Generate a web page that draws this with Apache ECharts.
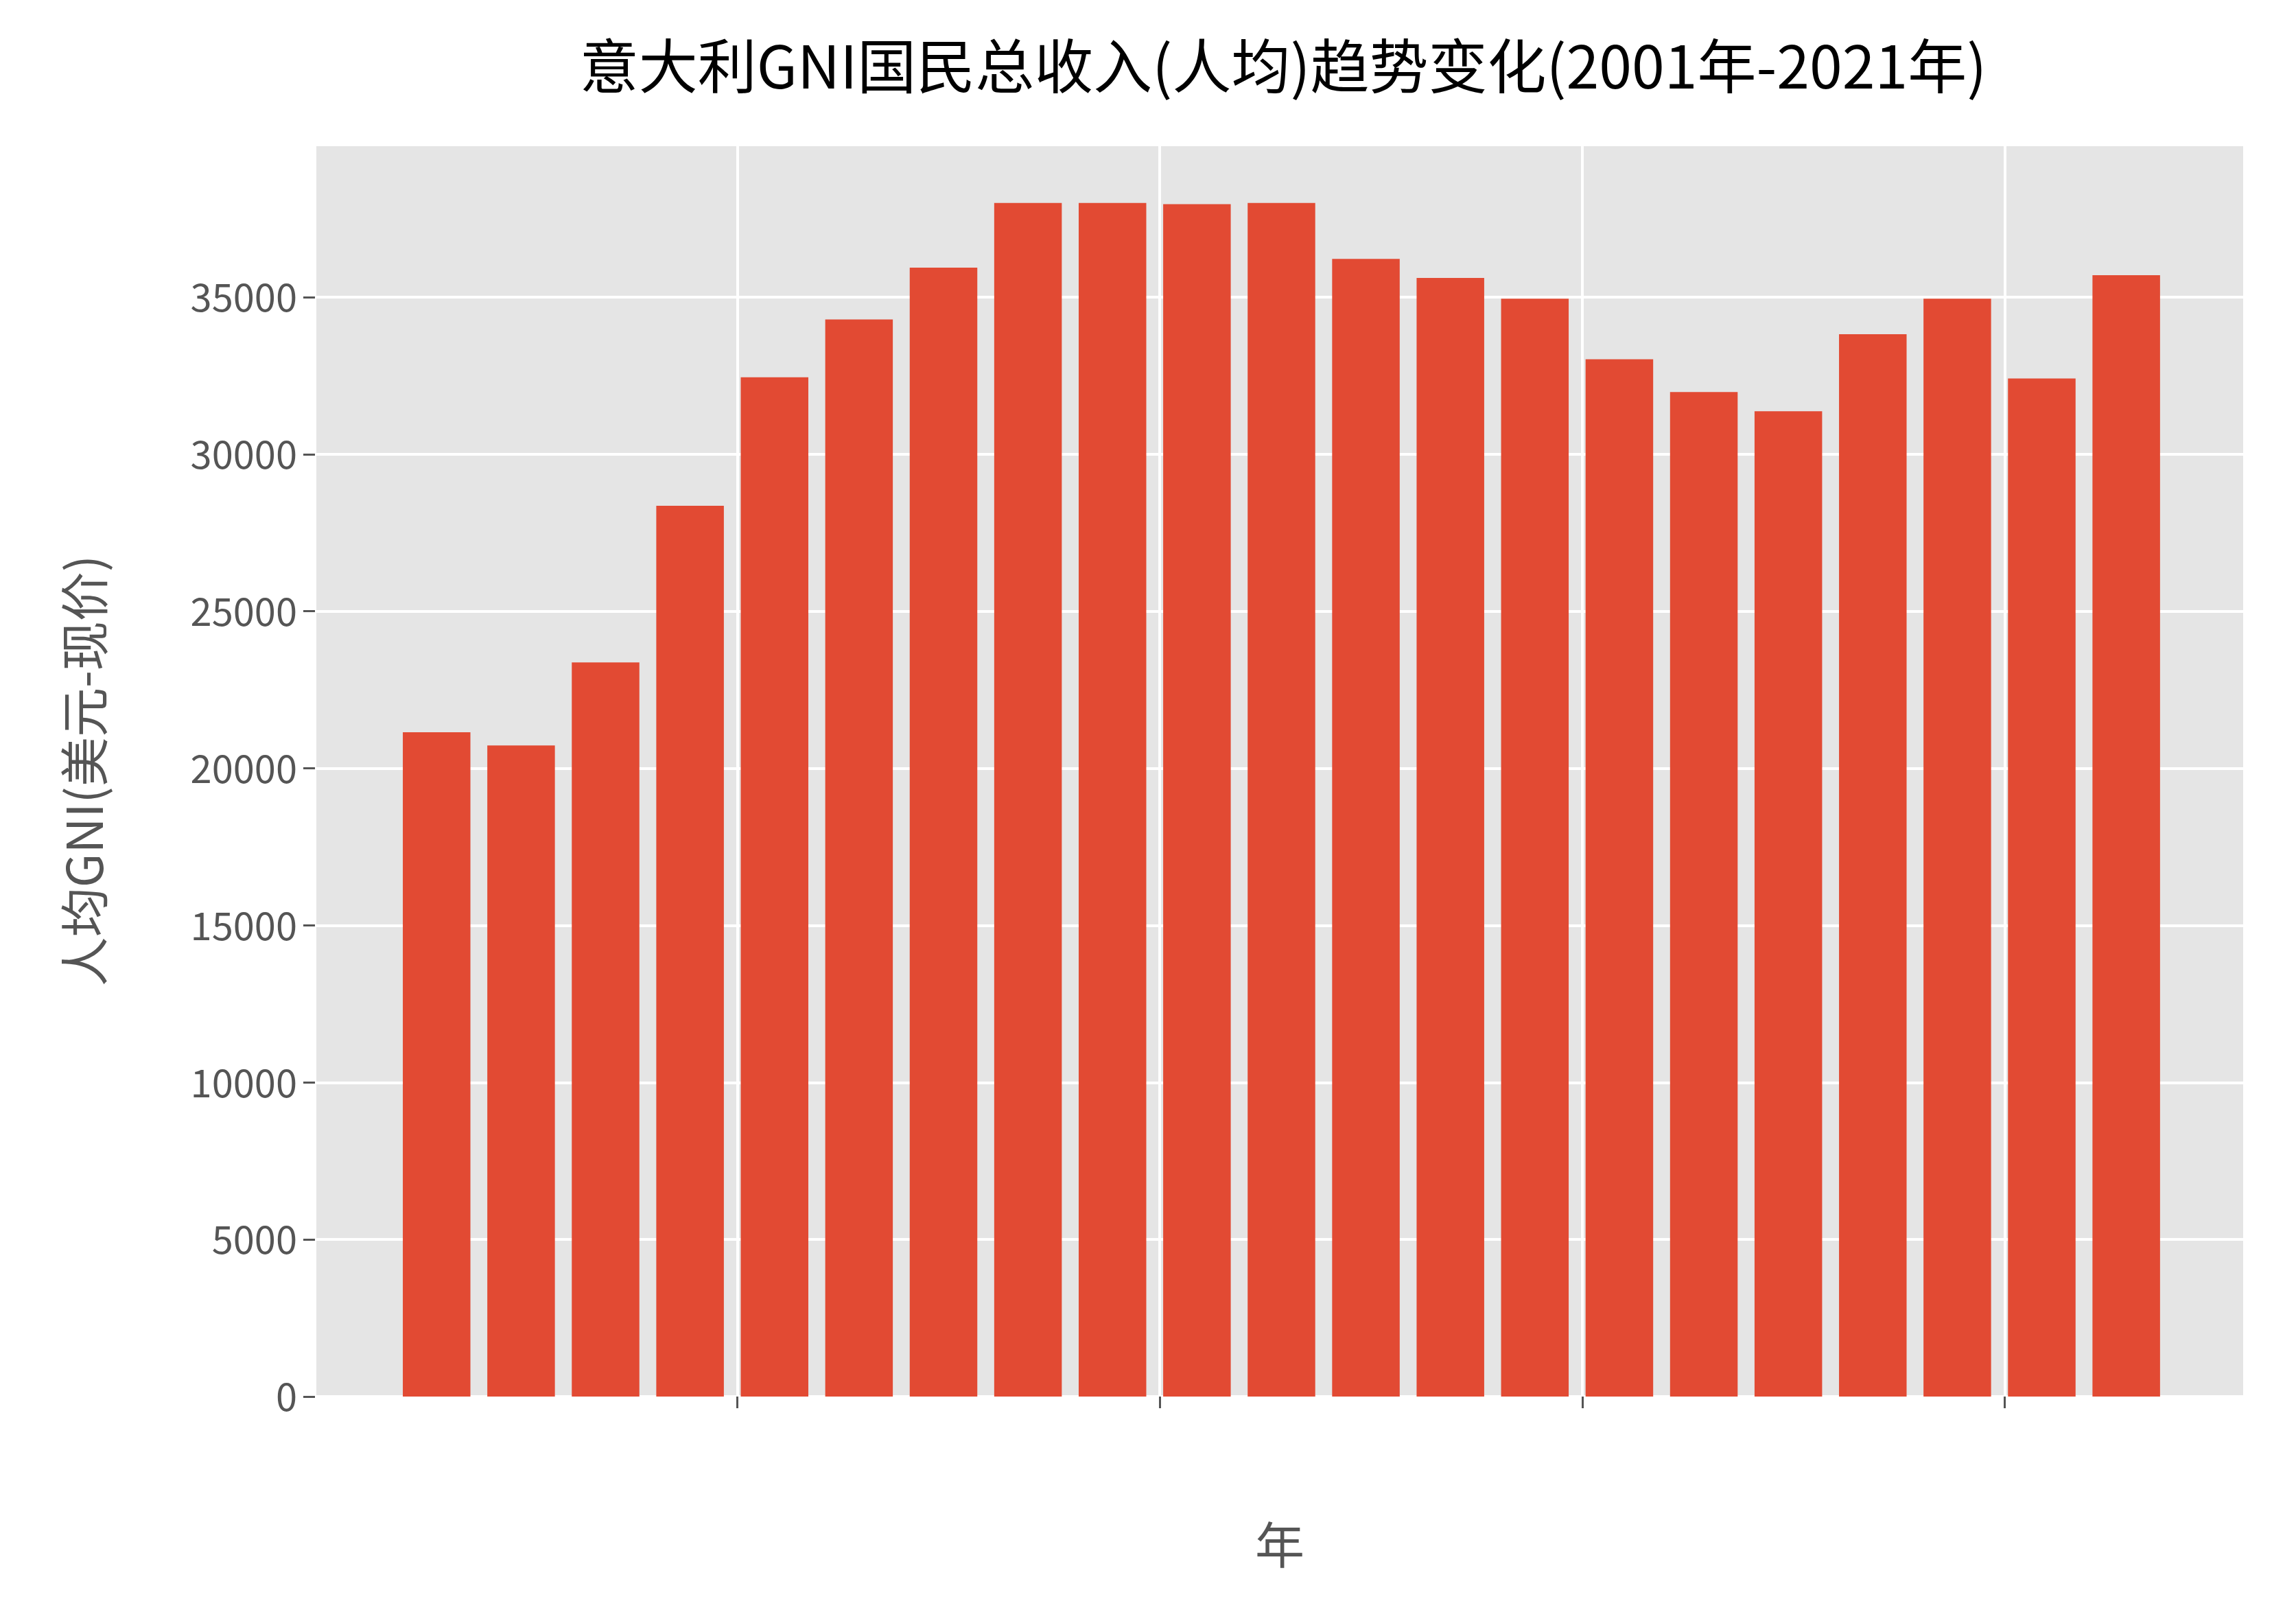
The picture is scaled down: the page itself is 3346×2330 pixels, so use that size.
<!DOCTYPE html>
<html><head><meta charset="utf-8">
<script src="https://cdn.jsdelivr.net/npm/echarts@6/dist/echarts.min.js"></script>
<style>html,body{margin:0;padding:0;background:#fff}#c{width:3346px;height:2330px}</style>
</head><body><div id="c"></div>
<script>
const years = [2001,2002,2003,2004,2005,2006,2007,2008,2009,2010,2011,2012,2013,2014,2015,2016,2017,2018,2019,2020,2021];
const gni = [21150,20730,23370,28360,32450,34290,35940,38000,38000,37960,38000,36220,35610,34950,33020,31980,31370,33820,34950,32410,35700];
const font = '"Noto Sans CJK SC", sans-serif';
const chart = echarts.init(document.getElementById('c'));
chart.setOption({
  backgroundColor:'#fff',
  title:{text:'意大利GNI国民总收入(人均)趋势变化(2001年-2021年)',left:1865,top:48,textAlign:'center',
    textStyle:{fontFamily:font,fontSize:86,fontWeight:'normal',color:'#000'}},
  grid:{left:459,right:75,top:211,bottom:295,show:true,backgroundColor:'#e5e5e5',borderWidth:0},
  xAxis:{type:'value',min:1999.56,max:2022.4,interval:5,
    name:'年',nameLocation:'middle',nameGap:180,nameTextStyle:{fontFamily:font,fontSize:72,color:'#555'},
    axisLine:{show:false},axisTick:{show:true,length:17,lineStyle:{color:'#555',width:3}},
    axisLabel:{fontFamily:font,fontSize:56,color:'#555',margin:26,showMinLabel:false,showMaxLabel:false,
      formatter:v=>Number.isInteger(v)?String(v):''},
    splitLine:{show:true,lineStyle:{color:'#fff',width:4}}},
  yAxis:{type:'value',min:0,max:39850,interval:5000,
    name:'人均GNI(美元-现价)',nameLocation:'middle',nameGap:300,nameTextStyle:{fontFamily:font,fontSize:72,color:'#555'},
    axisLine:{show:false},axisTick:{show:true,length:17,lineStyle:{color:'#555',width:3}},
    axisLabel:{fontFamily:font,fontSize:56,color:'#555',margin:26,showMaxLabel:false,
      formatter:v=>v%5000===0?String(v):''},
    splitLine:{show:true,lineStyle:{color:'#fff',width:4}}},
  series:[{type:'custom',data:years.map((y,i)=>[y,gni[i]]),
    renderItem:(params,api)=>{
      const x=api.value(0), v=api.value(1);
      const p0=api.coord([x-0.4,v]), p1=api.coord([x+0.4,0]);
      return {type:'rect',shape:{x:p0[0],y:p0[1],width:p1[0]-p0[0],height:p1[1]-p0[1]},style:{fill:'#e24a33'}};
    }}]
});
</script></body></html>
